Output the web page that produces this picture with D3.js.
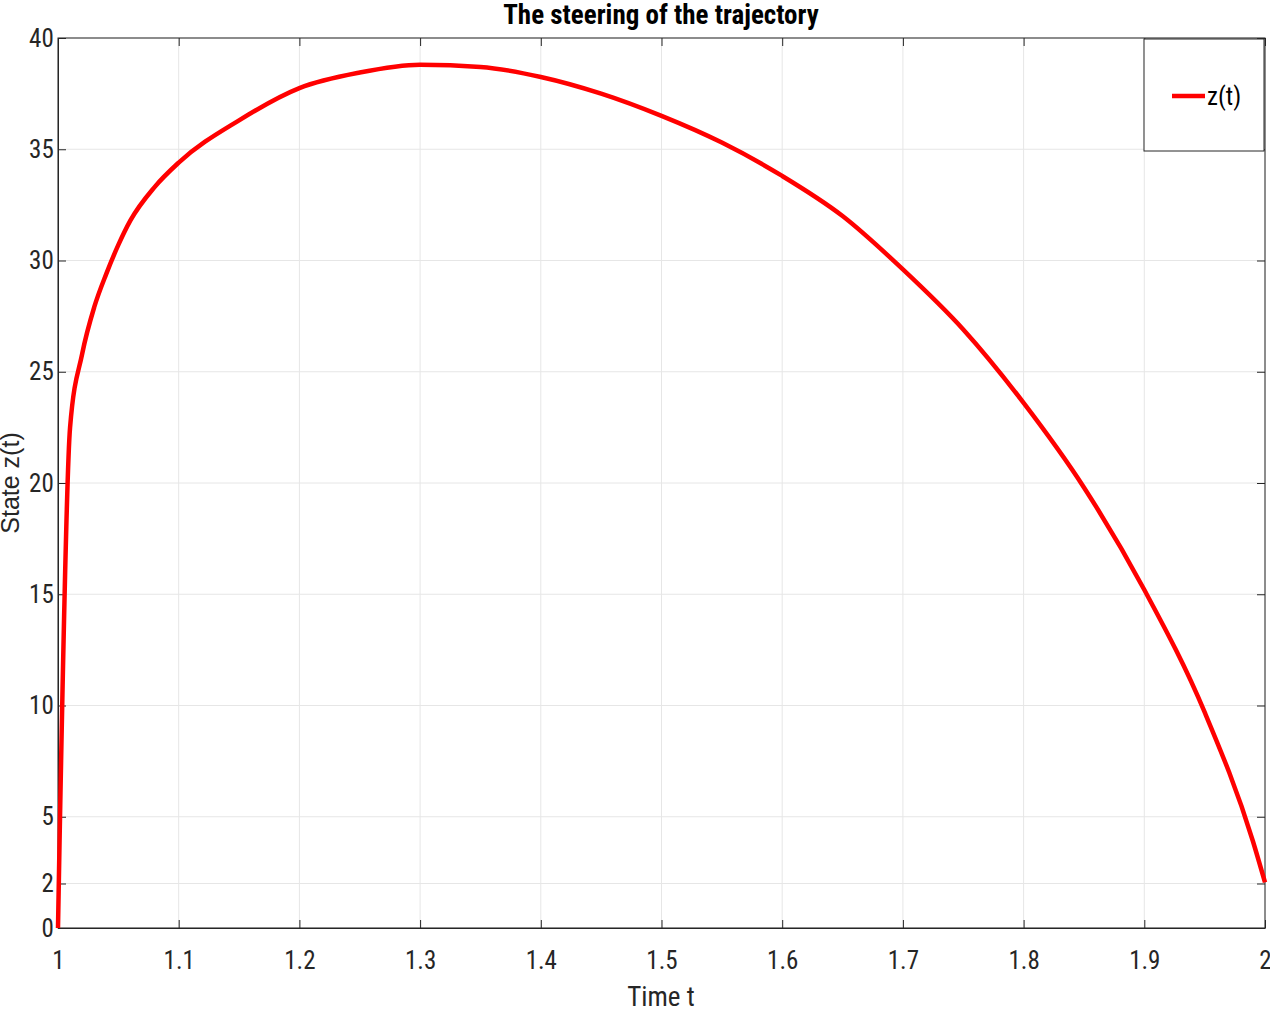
<!DOCTYPE html>
<html><head><meta charset="utf-8">
<script src="https://cdn.jsdelivr.net/npm/d3@7"></script>
<style>body{margin:0;background:#fff}</style></head>
<body><svg id="c" width="1270" height="1011"></svg>
<script>
const tValues = [1,1.01,1.02,1.03,1.04,1.05,1.06,1.08,1.1,1.15,1.2,1.25,1.3,1.35,1.4,1.45,1.5,1.55,1.6,1.65,1.7,1.75,1.8,1.85,1.9,1.95,1.99,2];
const zValues = [0,22.5,25.8,27.9,29.4,30.7,31.8,33.3,34.4,36.3,37.75,38.45,38.8,38.7,38.25,37.5,36.5,35.3,33.8,32.0,29.6,26.9,23.6,19.8,15.2,9.7,3.9,2.05];
const xTicks = [1,1.1,1.2,1.3,1.4,1.5,1.6,1.7,1.8,1.9,2];
const yTicks = [0,2,5,10,15,20,25,30,35,40];
const font = "'Liberation Sans Narrow','Roboto Condensed','Liberation Sans',sans-serif";
const svg = d3.select("#c");
const L=58,R=1265,T=38,B=928;
const x = d3.scaleLinear().domain([1,2]).range([L,R]);
const y = d3.scaleLinear().domain([0,40]).range([B,T]);
const g = svg.append("g");
g.selectAll(".gx").data(xTicks).join("line").attr("x1",d=>x(d)).attr("x2",d=>x(d)).attr("y1",T).attr("y2",B).attr("stroke","#e6e6e6");
g.selectAll(".gy").data(yTicks).join("line").attr("y1",d=>y(d)).attr("y2",d=>y(d)).attr("x1",L).attr("x2",R).attr("stroke","#e6e6e6");
g.append("rect").attr("x",L).attr("y",T).attr("width",R-L).attr("height",B-T).attr("fill","none").attr("stroke","#262626");
const xa = svg.append("g").attr("transform",`translate(0,${B})`).call(d3.axisBottom(x).tickValues(xTicks).tickFormat(d3.format("")).tickSizeInner(-8).tickSizeOuter(0));
const ya = svg.append("g").attr("transform",`translate(${L},0)`).call(d3.axisLeft(y).tickValues(yTicks).tickSizeInner(-8).tickSizeOuter(0));
svg.append("g").attr("transform",`translate(0,${T})`).call(d3.axisTop(x).tickValues(xTicks).tickFormat("").tickSizeInner(-8).tickSizeOuter(0)).select(".domain").remove();
svg.append("g").attr("transform",`translate(${R},0)`).call(d3.axisRight(y).tickValues(yTicks).tickFormat("").tickSizeInner(-8).tickSizeOuter(0)).select(".domain").remove();
svg.selectAll(".tick line").attr("stroke","#262626");
svg.selectAll(".domain").attr("stroke","#262626");
xa.selectAll("text").attr("font-family",font).attr("font-size",25).attr("fill","#262626").attr("dy","1.5em");
ya.selectAll("text").attr("font-family",font).attr("font-size",25).attr("fill","#262626").attr("dx","-0.05em");
svg.append("path").datum(tValues.map((t,i)=>[t,zValues[i]]))
 .attr("d",d3.line().x(d=>x(d[0])).y(d=>y(d[1])).curve(d3.curveMonotoneX))
 .attr("fill","none").attr("stroke","#ff0000").attr("stroke-width",4.5);
svg.append("text").attr("x",661).attr("y",24).attr("text-anchor","middle").attr("font-family",font).attr("font-weight","bold").attr("font-size",27).text("The steering of the trajectory");
svg.append("text").attr("x",661).attr("y",1006).attr("text-anchor","middle").attr("font-family",font).attr("font-size",27).attr("fill","#262626").text("Time t");
svg.append("text").attr("transform","translate(19,483) rotate(-90)").attr("text-anchor","middle").attr("font-family","'Liberation Sans',sans-serif").attr("font-size",25).attr("fill","#262626").text("State z(t)");
svg.append("rect").attr("x",1144).attr("y",39).attr("width",120).attr("height",112).attr("fill","#fff").attr("stroke","#262626");
svg.append("line").attr("x1",1172).attr("x2",1205).attr("y1",96).attr("y2",96).attr("stroke","#ff0000").attr("stroke-width",4.5);
svg.append("text").attr("x",1207).attr("y",105).attr("font-family",font).attr("font-size",25).text("z(t)");
</script></body></html>
